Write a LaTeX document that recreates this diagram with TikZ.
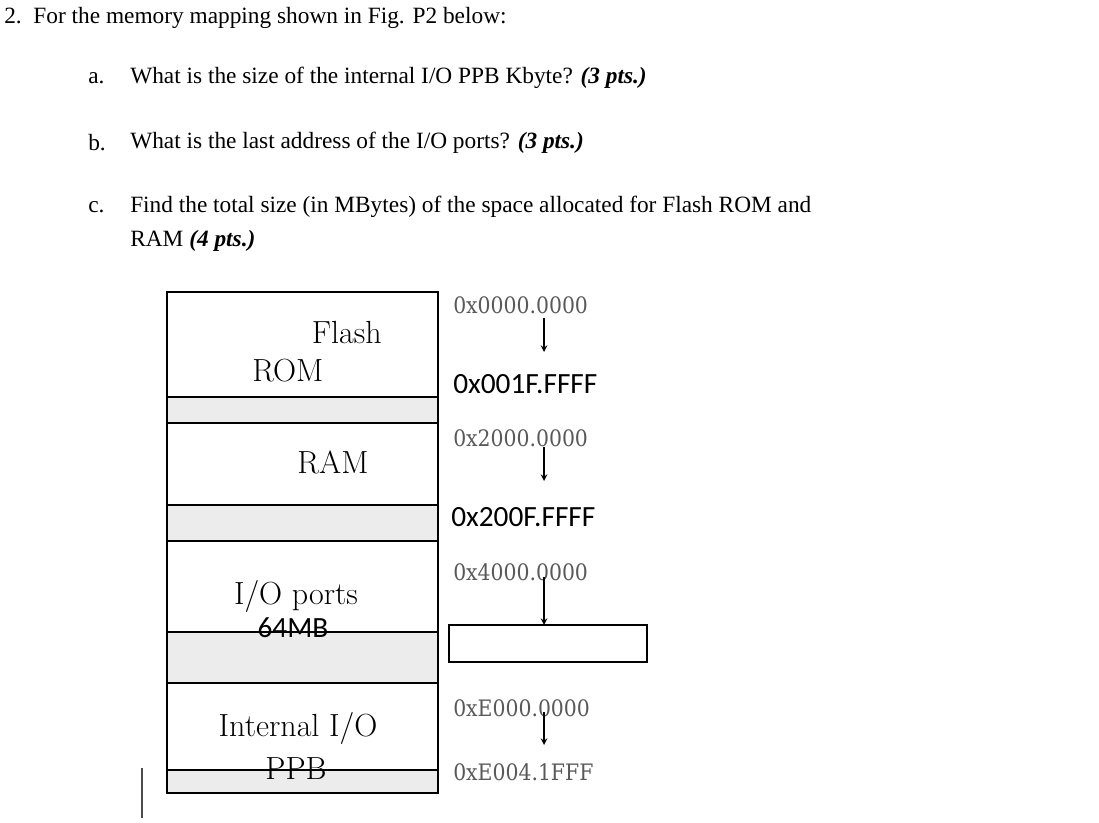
\documentclass[tikz,border=0pt]{standalone}
\usepackage{fontspec}
\setmainfont{Liberation Serif}
\newfontfamily\calfnt{Carlito}
\newfontfamily\slabfnt{DejaVu Serif Condensed}
\newfontfamily\lmfnt{Latin Modern Roman}
\begin{document}
\begin{tikzpicture}[x=0.75pt,y=-0.75pt,
  txt/.style={anchor=west,inner sep=0,font=\fontsize{17.5}{20}\selectfont},
  band/.style={draw=black,line width=1.6pt,fill=gray!15},
  cell/.style={draw=black,line width=1.6pt,fill=white},
  lab/.style={inner sep=0,font=\lmfnt\fontsize{24}{26}\selectfont,align=center},
  gad/.style={anchor=west,inner sep=0,text=black!65,font=\slabfnt\fontsize{17}{20}\selectfont},
  bad/.style={anchor=west,inner sep=0,font=\calfnt\fontsize{22}{24}\selectfont},
  arr/.style={-stealth,line width=1.2pt}]
\useasboundingbox (0,0) rectangle (1099,823);
\node[txt] (q) at (4,18) {2.\ \ For the memory mapping shown in Fig. P2 below:};
\node[txt] (qa0) at (88,78) {a.};
\node[txt] (qa) at (130,78) {What is the size of the internal I/O PPB Kbyte? \textbf{\textit{(3 pts.)}}};
\node[txt] (qb0) at (88,143) {b.};
\node[txt] (qb) at (130,143) {What is the last address of the I/O ports? \textbf{\textit{(3 pts.)}}};
\node[txt] (qc0) at (88,207) {c.};
\node[txt] (qc) at (130,207) {Find the total size (in MBytes) of the space allocated for Flash ROM and};
\node[txt] (qc2) at (130,241) {RAM \textbf{\textit{(4 pts.)}}};
% memory map
\draw[cell] (167,292) rectangle (438,397);
\draw[band] (167,397) rectangle (438,423);
\draw[cell] (167,423) rectangle (438,505);
\draw[band] (167,505) rectangle (438,541);
\draw[cell] (167,541) rectangle (438,632);
\draw[band] (167,632) rectangle (438,683);
\draw[cell] (167,683) rectangle (438,770);
\draw[band] (167,770) rectangle (438,793);
\draw[line width=2.2pt] (167,292) rectangle (438,793);
\node[lab,anchor=east] (fl) at (382,333) {Flash};
\node[lab,anchor=west] (rom) at (252,371) {ROM};
\node[lab] (ram) at (333,462) {RAM};
\node[lab] (io) at (296,596) {I/O ports};
\node[inner sep=0,font=\calfnt\fontsize{22}{24}\selectfont] (mb) at (293,628) {64MB};
\node[lab] (int) at (298,728) {Internal I/O};
\node[lab] (ppb) at (296,769) {PPB};
% addresses
\node[gad] (a1) at (453,305) {0x0000.0000};
\node[bad] (a2) at (453,384) {0x001F.FFFF};
\node[gad] (a3) at (453,438) {0x2000.0000};
\node[bad] (a4) at (451,517) {0x200F.FFFF};
\node[gad] (a5) at (453,572) {0x4000.0000};
\draw[line width=1.2pt] (449,625) rectangle (647,662);
\node[gad] (a6) at (453,708) {0xE000.0000};
\node[gad] (a7) at (453,772) {0xE004.1FFF};
\coordinate (t1) at (544,318); \coordinate (h1) at (544,352);
\coordinate (t2) at (544,447); \coordinate (h2) at (544,481);
\coordinate (t3) at (544,577); \coordinate (h3) at (544,625);
\coordinate (t4) at (544,712); \coordinate (h4) at (544,745);
\draw[arr] (t1) -- (h1);
\draw[arr] (t2) -- (h2);
\draw[arr] (t3) -- (h3);
\draw[arr] (t4) -- (h4);
\coordinate (v1) at (142,768); \coordinate (v2) at (142,818);
\draw[line width=1pt,black!70] (v1) -- (v2);
\end{tikzpicture}
\end{document}
